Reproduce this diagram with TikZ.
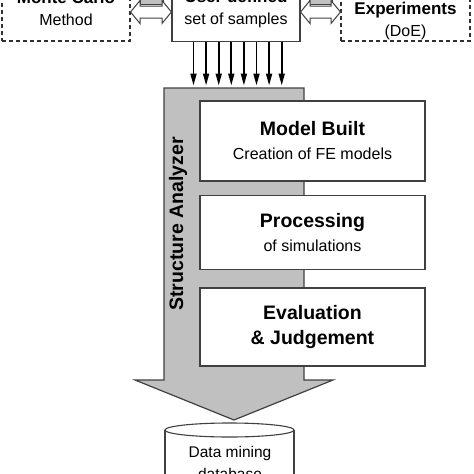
\documentclass[tikz,border=0pt]{standalone}
\usepackage{fontspec}
\setmainfont{Liberation Sans}
\usetikzlibrary{arrows.meta}
\definecolor{boxline}{HTML}{404040}
\definecolor{dashline}{HTML}{303030}
\definecolor{grayfill}{HTML}{C0C0C0}
\newcommand\bigbold{\bfseries\fontsize{19.5}{25}\selectfont}
\newcommand\topbold{\bfseries\fontsize{17}{22}\selectfont}
\begin{document}
\begin{tikzpicture}[x=1pt,y=-1pt,
  dashbox/.style={draw=dashline,line width=1.1pt,dash pattern=on 4pt off 3pt,fill=white,inner sep=0pt,align=center,font=\fontsize{16}{22}\selectfont},
  solidbox/.style={draw=boxline,line width=1.2pt,fill=white,inner sep=0pt,align=center,font=\fontsize{16}{22}\selectfont},
  procbox/.style={draw=boxline,line width=1.2pt,fill=white,inner sep=0pt,align=center,minimum width=225pt,font=\fontsize{16}{24}\selectfont},
  blockarrow/.style={draw=boxline,line width=1pt,fill=white,line join=miter},
  feed/.style={line width=1.8pt,-{Triangle[length=12pt,width=6pt]}},
  bigarrow/.style={draw=boxline,line width=1.2pt,fill=grayfill,line join=miter}]
\useasboundingbox (0,0) rectangle (474,474);
\clip (0,0) rectangle (474,474);

% top boxes
\node[dashbox,minimum width=128pt,minimum height=66pt] (mc) at (66,8)
  {{\topbold Monte Carlo}\\Method};
\node[solidbox,minimum width=128pt,minimum height=66pt] (usd) at (236,8.5)
  {{\topbold User defined}\\set of samples};
\node[dashbox,minimum width=129pt,minimum height=62pt] (doe) at (405.5,10)
  {{\topbold Design of}\\{\topbold Experiments}\\(DoE)};

% upper (gray) block arrows, mostly outside the picture
\fill[grayfill,draw=boxline,line width=1pt] (140,-10) rectangle (163,4.5);
\fill[grayfill,draw=boxline,line width=1pt] (309,-10) rectangle (332,4.5);

% double block arrows
\draw[blockarrow] (mc.east |- 0,12) -- (140,0.5) -- (140,6) -- (162,6) -- (162,0.5)
  -- (usd.west |- 0,12) -- (162,23.5) -- (162,18) -- (140,18) -- (140,23.5) -- cycle;
\draw[blockarrow] (usd.east |- 0,12) -- (310,0.5) -- (310,6) -- (331,6) -- (331,0.5)
  -- (doe.west |- 0,12) -- (331,23.5) -- (331,18) -- (310,18) -- (310,23.5) -- cycle;

% big gray arrow (Structure Analyzer)
\draw[bigarrow] (164,88) -- (304,88) -- (304,380) -- (333,380) -- (234,420)
  -- (135,380) -- (164,380) -- cycle;
\coordinate (satop) at (234,85.5);
\node[rotate=90,font=\bigbold] (sa) at (178,224) {Structure Analyzer};

% feed arrows
\foreach \i in {0,...,7}{
  \draw[feed] (usd.south -| {193.5+12.6*\i},0) -- (satop -| {193.5+12.6*\i},0);
}

% process boxes
\node[procbox,minimum height=80pt] (mb) at (312.5,141)
  {{\bigbold Model Built}\\Creation of FE models};
\node[procbox,minimum height=74pt] (ps) at (312.5,232.5)
  {{\bigbold Processing}\\of simulations};
\node[procbox,minimum height=78pt,font=\bigbold] (ej) at (312.5,327)
  {Evaluation\\\& Judgement};

% database cylinder
\draw[draw=boxline,line width=1.1pt,fill=white] (165,430) -- (165,490) -- (294,490) -- (294,430);
\draw[draw=boxline,line width=1.1pt,fill=white] (229.5,430) ellipse [x radius=64.5pt,y radius=7pt];
\node[align=center,font=\fontsize{15.5}{22}\selectfont,anchor=north] (db) at (230,443)
  {Data mining\\database};
\end{tikzpicture}
\end{document}
